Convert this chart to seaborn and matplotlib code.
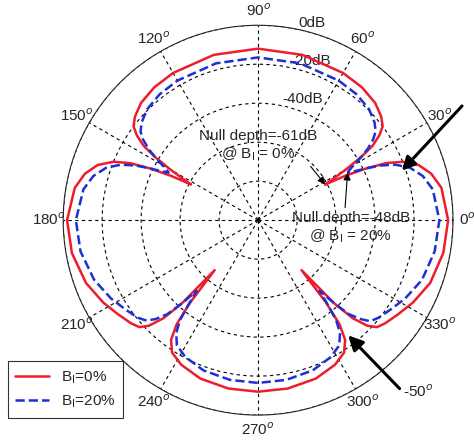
import numpy as np
import matplotlib
matplotlib.use("Agg")
import matplotlib.pyplot as plt
import seaborn as sns

sns.set_style("white")
plt.rcParams["font.family"] = ["Arial", "Liberation Sans", "DejaVu Sans"]

# pattern samples: angle (deg), level (dB)
ang = [28, 29, 30, 31.5, 33, 35, 37, 40, 45, 52, 60, 75, 90, 105, 120, 128, 135, 140, 143, 145, 147,
       148.5, 150, 151, 152,
       153, 154.5, 156, 158, 161, 165, 170, 180, 190, 200, 208, 214, 219, 222, 224, 226, 227.5, 229,
       230.5, 232, 234, 237, 242, 250, 260, 270, 280, 290, 298, 303, 306, 308, 309.5, 311,
       312.5, 314, 316, 318, 321, 326, 332, 340, 350, 360, 370, 375, 379, 382, 384, 385.5, 387, 388]
db_0 = [-61, -55, -48, -38, -30, -24, -20, -17.5, -15, -13.5, -12.8, -12.2, -12, -12.2, -12.8, -13.5, -15, -17.5, -20, -24, -30,
        -38, -48, -55, -61,
        -50, -38, -28, -20, -13, -8, -4.5, -2, -3, -6, -10, -13.5, -16, -18, -22, -30, -42, -66,
        -45, -32, -24, -19, -16, -13.5, -12.3, -12, -12.3, -13.5, -16, -19, -24, -32, -45, -66,
        -42, -30, -22, -18, -16, -13.5, -10, -6, -3.5, -2.5, -4.5, -8, -13, -20, -28, -38, -50, -61]
db_20 = [-48, -46, -43, -38, -33, -28, -24.5, -22, -19.5, -18, -17.3, -16.7, -16.5, -16.7, -17.3, -18, -19.5, -22, -24.5, -28, -33,
         -38, -43, -46, -48,
         -45, -38, -31, -24, -17.5, -12.5, -9, -6.5, -7.5, -10.5, -14.5, -18, -20.5, -23, -27, -33, -42, -52,
         -44, -35, -28.5, -23.5, -20.5, -18, -16.8, -16.5, -16.8, -18, -20.5, -23.5, -28.5, -35, -44, -52,
         -42, -33, -27, -22.5, -20.5, -18, -14.5, -10.5, -8, -7, -9, -12.5, -17.5, -24, -31, -38, -45, -48]
theta_ticks = list(range(0, 360, 30))
r_ticks = [-80, -60, -40, -20, 0]
r_labels = ["", "", "-40dB", "-20dB", "0dB"]

fig = plt.figure(figsize=(4.74, 4.43), dpi=100)
ax = fig.add_axes([0.133, 0.063, 0.823, 0.880], projection="polar")

ax.plot(np.radians(ang), db_0, color="#ee1c2e", lw=1.8, label="B$_\\mathrm{l}$=0%")
ax.plot(np.radians(ang), db_20, color="#1f2fd6", lw=1.8, ls="--", label="B$_\\mathrm{l}$=20%")

ax.set_ylim(-100, 0)
ax.set_yticks(r_ticks)
ax.set_yticklabels(r_labels, fontsize=11)
ax.set_rlabel_position(78)
ax.set_thetagrids(theta_ticks, [f"{t}$^{{o}}$" for t in theta_ticks], fontsize=11)
ax.tick_params(axis="x", pad=0)
ax.grid(True, color="black", ls=(0, (3, 3)), lw=0.8)
ax.spines["polar"].set_linewidth(0.8)

fs = 11
ax.annotate("Null depth=-61dB\n@ B$_\\mathrm{l}$ = 0%", xy=(np.radians(28), -61),
            xytext=(0.545, 1 - 146 / 443), textcoords="figure fraction",
            ha="center", va="center", fontsize=fs,
            arrowprops=dict(arrowstyle="-|>", color="black", lw=0.8,
                            shrinkA=0, shrinkB=0, relpos=(0.85, 0.3)))
ax.annotate("Null depth=-48dB\n@ B$_\\mathrm{l}$ = 20%", xy=(np.radians(28), -48),
            xytext=(0.74, 1 - 228 / 443), textcoords="figure fraction",
            ha="center", va="center", fontsize=fs,
            arrowprops=dict(arrowstyle="-|>", color="black", lw=0.8,
                            shrinkA=0, shrinkB=0, relpos=(0.45, 1.0)))
ax.annotate("", xy=(np.radians(19), -22), xytext=(462 / 474, 1 - 106 / 443),
            textcoords="figure fraction",
            arrowprops=dict(arrowstyle="-|>,head_width=0.4,head_length=0.8",
                            color="black", lw=2.2, shrinkA=0, shrinkB=0))
ax.annotate("-50$^{o}$", xy=(np.radians(-52), -25), xytext=(0.85, 1 - 392 / 443),
            textcoords="figure fraction", ha="left", va="center", fontsize=fs,
            arrowprops=dict(arrowstyle="-|>,head_width=0.4,head_length=0.8",
                            color="black", lw=2.2, shrinkA=0, shrinkB=0,
                            relpos=(0.0, 0.5)))

leg = fig.legend(loc="lower left", bbox_to_anchor=(0.0, 0.04), fontsize=11,
                 frameon=True, fancybox=False, edgecolor="black",
                 handlelength=2.2, borderpad=0.5)
leg.get_frame().set_linewidth(0.8)

fig.savefig("out.png", dpi=100)
